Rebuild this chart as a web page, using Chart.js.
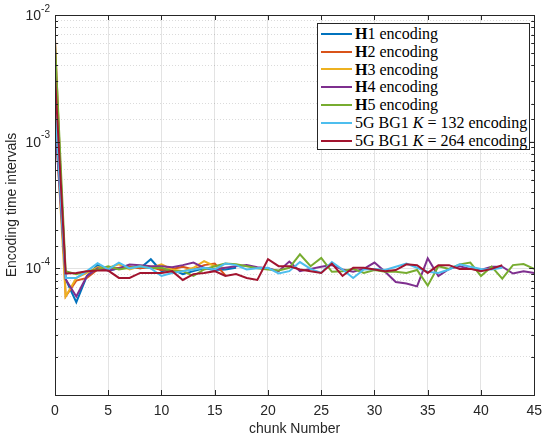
<!DOCTYPE html>
<html><head><meta charset="utf-8">
<script src="https://cdn.jsdelivr.net/npm/chart.js@4.4.0/dist/chart.umd.min.js"></script>
<style>
html,body{margin:0;padding:0;background:#fff;}
#wrap{position:relative;width:550px;height:440px;}
#legend{position:absolute;left:317px;top:23px;width:213px;height:127px;border:1px solid #262626;background:#fff;box-sizing:border-box;font-family:"Liberation Serif","DejaVu Serif",serif;font-size:16px;color:#000;padding-top:1px}
.row{height:17.8px;display:flex;align-items:center;white-space:nowrap}
.sw{width:31px;height:0;border-top:2px solid;margin-left:3px;margin-right:3px}
</style></head>
<body>
<div id="wrap"><canvas id="c" width="550" height="440"></canvas><div id="legend"></div></div>
<script>
// chunk numbers are the array indices (0,1,2,...)
const h1 = [4.6e-3,0.82e-4,0.54e-4,0.87e-4,1.06e-4,0.96e-4,1.0e-4,1.02e-4,1.0e-4,1.18e-4,0.95e-4,0.98e-4,0.90e-4,0.95e-4,1.0e-4,0.97e-4,0.98e-4,1.01e-4];
const h2 = [6.5e-3,0.6e-4,0.8e-4,0.84e-4,0.98e-4,1.0e-4,1.01e-4,1.03e-4,1.0e-4,1.02e-4,0.97e-4,0.99e-4,1.03e-4,0.98e-4,1.06e-4,1.09e-4,0.88e-4];
const h3 = [1.7e-3,0.6e-4,0.84e-4,0.92e-4,1.02e-4,1.01e-4,1.075e-4,0.98e-4,1.04e-4,1.01e-4,1.075e-4,0.98e-4,0.95e-4,1.01e-4,1.14e-4,1.04e-4,1.0e-4];
const h4 = [1.45e-3,0.82e-4,0.6e-4,0.87e-4,1.0e-4,0.96e-4,1.0e-4,1.07e-4,1.06e-4,1.04e-4,1.04e-4,1.02e-4,1.06e-4,1.11e-4,1.01e-4,0.98e-4,1.01e-4,1.04e-4,1.06e-4,1.02e-4,1.0e-4,0.95e-4,1.13e-4,0.95e-4,0.99e-4,1.03e-4,1.06e-4,0.98e-4,0.94e-4,0.99e-4,1.11e-4,0.94e-4,0.78e-4,0.76e-4,0.72e-4,1.20e-4,0.87e-4,0.99e-4,1.04e-4,0.99e-4,0.97e-4,1.03e-4,1.03e-4,0.91e-4,0.95e-4,0.92e-4];
const h5 = [6.0e-3,0.95e-4,0.9e-4,0.95e-4,0.98e-4,1.04e-4,0.98e-4,1.01e-4,1.04e-4,1.0e-4,1.01e-4,0.95e-4,0.95e-4,0.87e-4,0.98e-4,1.04e-4,1.09e-4,1.075e-4,1.04e-4,1.0e-4,0.98e-4,0.96e-4,1.01e-4,1.29e-4,1.04e-4,1.21e-4,0.94e-4,0.95e-4,0.99e-4,0.92e-4,0.97e-4,0.94e-4,0.94e-4,0.92e-4,0.97e-4,0.73e-4,1.04e-4,0.99e-4,1.075e-4,1.11e-4,0.87e-4,1.03e-4,0.83e-4,1.06e-4,1.08e-4,0.99e-4];
const k132 = [1.9e-3,0.84e-4,0.84e-4,0.95e-4,1.1e-4,0.98e-4,1.11e-4,1.0e-4,1.04e-4,1.0e-4,0.87e-4,0.92e-4,0.95e-4,0.98e-4,1.01e-4,0.98e-4,1.09e-4,1.06e-4,0.98e-4,1.0e-4,1.01e-4,0.91e-4,0.95e-4,1.12e-4,0.99e-4,0.92e-4,1.12e-4,0.98e-4,0.84e-4,0.98e-4,0.99e-4,0.97e-4,1.03e-4,1.09e-4,1.01e-4,0.94e-4,0.92e-4,0.98e-4,1.075e-4,1.03e-4,0.99e-4,0.98e-4,1.01e-4];
const k264 = [3.3e-3,0.91e-4,0.92e-4,0.95e-4,0.96e-4,0.96e-4,0.84e-4,0.84e-4,0.92e-4,0.92e-4,0.92e-4,0.95e-4,0.81e-4,0.90e-4,0.92e-4,0.95e-4,0.87e-4,0.90e-4,0.84e-4,0.81e-4,1.18e-4,1.04e-4,1.04e-4,0.98e-4,0.95e-4,0.92e-4,1.09e-4,0.87e-4,1.01e-4,1.01e-4,0.98e-4,0.95e-4,0.97e-4,1.075e-4,1.06e-4,0.92e-4,1.06e-4,1.06e-4,0.99e-4,0.99e-4,0.95e-4,0.99e-4,1.06e-4];

const seriesLabels = ['<b>H</b>1 encoding','<b>H</b>2 encoding','<b>H</b>3 encoding','<b>H</b>4 encoding','<b>H</b>5 encoding','5G BG1 <i>K</i> = 132 encoding','5G BG1 <i>K</i> = 264 encoding'];
const plainLabels = ['H1 encoding','H2 encoding','H3 encoding','H4 encoding','H5 encoding','5G BG1 K = 132 encoding','5G BG1 K = 264 encoding'];
const colors = ['#0072BD','#D95319','#EDB120','#7E2F8E','#77AC30','#4DBEEE','#A2142F'];
const series = [h1,h2,h3,h4,h5,k132,k264];
const xTicksStep = 5, xMin = 0, xMax = 45;
const yMin = 1e-5, yMax = 1e-2;
const yLabelExps = [-2,-3,-4];

const isDecade = v => { const e = Math.log10(v); return Math.abs(e-Math.round(e))<1e-6; };
const FONT = 'Liberation Sans, Arial, Helvetica, sans-serif';

const frame = {
  id:'frame',
  afterDraw(chart){
    const {ctx, chartArea:a, scales:{x,y}} = chart;
    ctx.save();
    ctx.strokeStyle='#262626'; ctx.lineWidth=1;
    const L=(x1,y1,x2,y2)=>{ctx.beginPath();ctx.moveTo(x1,y1);ctx.lineTo(x2,y2);ctx.stroke();};
    x.ticks.forEach(t=>{const p=Math.round(x.getPixelForValue(t.value))+0.5; L(p,a.bottom,p,a.bottom-5); L(p,a.top,p,a.top+5);});
    y.ticks.forEach(t=>{const p=Math.round(y.getPixelForValue(t.value))+0.5; const len=isDecade(t.value)?5:3; L(a.left,p,a.left+len,p); L(a.right,p,a.right-len,p);});
    ctx.strokeRect(Math.round(a.left)+0.5, Math.round(a.top)+0.5, Math.round(a.right-a.left), Math.round(a.bottom-a.top));
    // y tick labels: base 10 with superscript exponent
    ctx.fillStyle='#262626'; ctx.textBaseline='middle';
    yLabelExps.forEach(e=>{
      const p = y.getPixelForValue(Math.pow(10,e));
      const expTxt = '-' + Math.abs(e);
      ctx.font = '10px '+FONT; const we = ctx.measureText(expTxt).width;
      ctx.font = '14px '+FONT; const wb = ctx.measureText('10').width;
      const right = a.left - 5;
      ctx.textAlign='left';
      ctx.fillText('10', right - we - wb, p+1);
      ctx.font = '10px '+FONT;
      ctx.fillText(expTxt, right - we, p-6);
    });
    ctx.restore();
  }
};

const datasets = series.map((arr,i)=>({
  label: plainLabels[i],
  data: arr.map((v,j)=>({x:j,y:v})),
  borderColor: colors[i], backgroundColor: colors[i],
  borderWidth: 2, pointRadius: 0, tension: 0, fill:false,
  order: series.length-1-i
}));

new Chart(document.getElementById('c'), {
  type:'line',
  data:{datasets},
  plugins:[frame],
  options:{
    responsive:false, animation:false,
    layout:{padding:{top:15,right:11,left:0,bottom:0}},
    plugins:{legend:{display:false},tooltip:{enabled:false}},
    scales:{
      x:{type:'linear',min:xMin,max:xMax,
         ticks:{stepSize:xTicksStep,color:'#262626',font:{family:FONT,size:14},padding:8},
         grid:{color:'rgba(0,0,0,0.11)',lineWidth:1,drawTicks:false},
         border:{display:false},
         title:{display:true,text:'chunk Number',color:'#262626',font:{family:FONT,size:14},padding:{top:1,bottom:2}},
         afterFit(s){s.height=45;}
      },
      y:{type:'logarithmic',min:yMin,max:yMax,
         ticks:{autoSkip:false,color:'rgba(0,0,0,0)',font:{family:FONT,size:14},padding:4,
                callback:(v)=>{ if(isDecade(v)){const e=Math.round(Math.log10(v)); if(yLabelExps.includes(e)) return '10^'+e;} return ''; }},
         grid:{drawTicks:false,lineWidth:1,color:(c)=> (c.tick && isDecade(c.tick.value)) ? 'rgba(0,0,0,0.11)' : 'rgba(0,0,0,0.14)'},
         border:{display:false,dash:(c)=> (c.tick && !isDecade(c.tick.value)) ? [1,2] : []},
         title:{display:true,text:'Encoding time intervals',color:'#262626',font:{family:FONT,size:14},padding:{top:4,bottom:4}},
         afterFit(s){s.width=55;}
      }
    }
  }
});

const lg = document.getElementById('legend');
seriesLabels.forEach((lab,i)=>{
  const r=document.createElement('div'); r.className='row';
  r.innerHTML='<span class="sw" style="border-color:'+colors[i]+'"></span><span>'+lab+'</span>';
  lg.appendChild(r);
});
</script>
</body></html>
